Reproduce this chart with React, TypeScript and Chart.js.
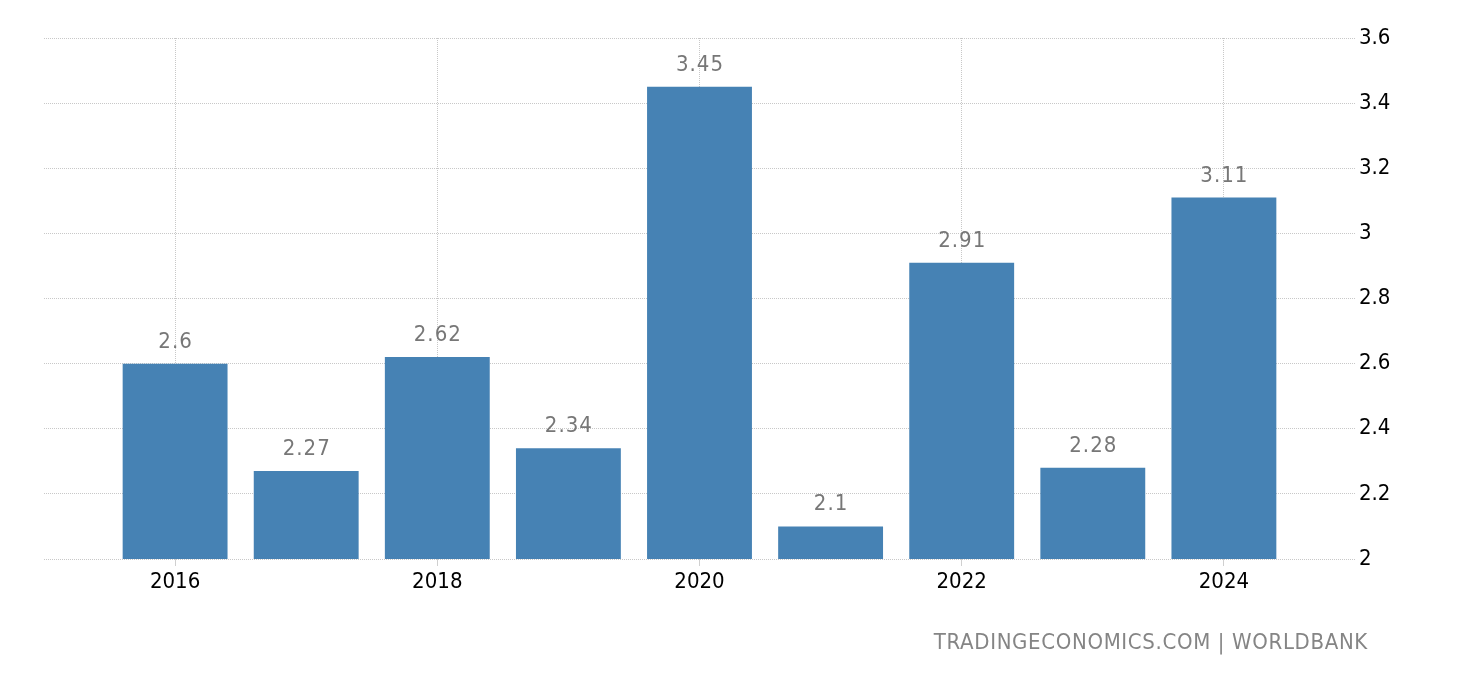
import React, { useEffect, useRef } from "react";
import { Chart, registerables } from "chart.js";

Chart.register(...registerables);

const years = [2016, 2017, 2018, 2019, 2020, 2021, 2022, 2023, 2024];
const values = [2.6, 2.27, 2.62, 2.34, 3.45, 2.1, 2.91, 2.28, 3.11];
const xTickYears = [2016, 2018, 2020, 2022, 2024];
const yMin = 2;
const yMax = 3.6;
const yStep = 0.2;
const sourceText = "TRADINGECONOMICS.COM | WORLDBANK";

const FONT = "'DejaVu Sans Condensed', 'DejaVu Sans', sans-serif";
const BAR_COLOR = "#4682B4";
const GRID_COLOR = "#c8c8c8";

const labelPlugin = {
  id: "valueLabels",
  afterDatasetsDraw(chart: any) {
    const ctx = chart.ctx;
    const meta = chart.getDatasetMeta(0);
    ctx.save();
    ctx.font = `22px ${FONT}`;
    ctx.fillStyle = "#777777";
    ctx.textAlign = "center";
    ctx.textBaseline = "alphabetic";
    try { (ctx as any).letterSpacing = "1px"; } catch (e) {}
    meta.data.forEach((bar: any, i: number) => {
      ctx.fillText(String(values[i]), bar.x + 0.5, bar.y - 16);
    });
    ctx.restore();
  },
  afterDraw(chart: any) {
    const ctx = chart.ctx;
    ctx.save();
    ctx.font = `22px ${FONT}`;
    ctx.fillStyle = "#858585";
    ctx.textAlign = "right";
    ctx.textBaseline = "alphabetic";
    try { (ctx as any).letterSpacing = "0.65px"; } catch (e) {}
    ctx.fillText(sourceText, 1368, 649);
    ctx.restore();
  },
};

export default function App() {
  const canvasRef = useRef<HTMLCanvasElement | null>(null);

  useEffect(() => {
    if (!canvasRef.current) return;
    const chart = new Chart(canvasRef.current, {
      type: "bar",
      data: {
        datasets: [
          {
            data: years.map((y, i) => ({ x: y, y: values[i] })),
            backgroundColor: BAR_COLOR,
            borderWidth: 0,
            categoryPercentage: 1,
            barPercentage: 0.8,
          },
        ],
      },
      options: {
        animation: false,
        responsive: true,
        maintainAspectRatio: false,
        layout: { padding: { left: 44, top: 38, right: 0, bottom: 0 } },
        plugins: {
          legend: { display: false },
          tooltip: { enabled: false },
        },
        scales: {
          x: {
            type: "linear",
            min: 2015,
            max: 2025,
            offset: false,
            afterBuildTicks: (scale: any) => {
              scale.ticks = xTickYears.map((v) => ({ value: v }));
            },
            afterFit: (scale: any) => {
              scale.height = 121;
            },
            border: { display: false, dash: [1, 1] },
            grid: {
              offset: false,
              color: GRID_COLOR,
              tickColor: "#d0d0d0",
              tickBorderDash: [],
              tickLength: 7,
              drawTicks: true,
            },
            ticks: {
              color: "#000000",
              font: { family: FONT, size: 22 },
              padding: 3,
              maxRotation: 0,
              callback: (v: any) => String(v),
            },
          },
          y: {
            position: "right",
            min: yMin,
            max: yMax,
            afterFit: (scale: any) => {
              scale.width = 105;
            },
            border: { display: false, dash: [1, 1] },
            grid: {
              color: GRID_COLOR,
              drawTicks: false,
            },
            ticks: {
              stepSize: yStep,
              color: "#000000",
              font: { family: FONT, size: 22 },
              padding: 4,
              callback: (v: any) => String(Number(Number(v).toFixed(1))),
            },
          },
        },
      },
      plugins: [labelPlugin],
    } as any);
    return () => chart.destroy();
  }, []);

  return (
    <div style={{ position: "absolute", left: 0, top: 0, width: 1460, height: 680 }}>
      <canvas ref={canvasRef} />
    </div>
  );
}
